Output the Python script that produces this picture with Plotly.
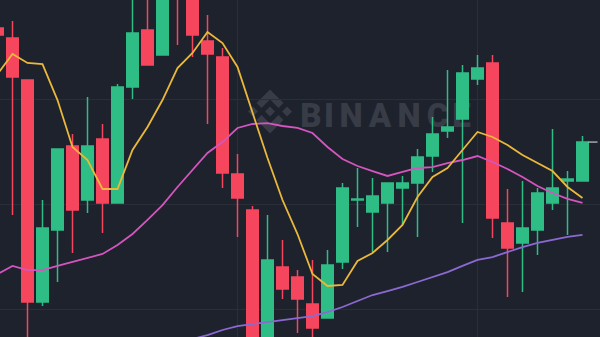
import plotly.graph_objects as go

# ---- data ----
idx = list(range(-1, 39))
opens = [126.76, 125.81, 121.81, 100.67, 107.52, 115.52, 110.38, 116.19, 110.10, 121.14,
         126.57, 124.19, 133.24, 131.33, 125.52, 124.00, 112.86, 109.43, 96.10, 104.00,
         103.05, 100.48, 99.14, 104.48, 110.38, 109.24, 110.10, 111.52, 112.00, 114.57,
         116.95, 118.10, 121.90, 123.43, 108.19, 106.29, 107.52, 110.10, 112.19, 112.19]
highs = [126.95, 127.43, 121.81, 110.38, 115.24, 116.67, 120.19, 117.62, 121.43, 129.90,
         129.90, 130.86, 133.71, 131.81, 128.00, 124.86, 114.76, 109.81, 108.95, 106.57,
         103.71, 104.67, 105.62, 112.00, 113.43, 112.48, 112.00, 112.67, 115.24, 118.29,
         122.76, 123.24, 124.19, 124.19, 111.43, 112.19, 111.52, 117.14, 113.14, 116.48]
lows = [125.90, 108.95, 96.57, 100.29, 102.57, 105.33, 109.14, 107.24, 110.10, 120.00,
        123.24, 124.19, 125.14, 124.00, 117.62, 111.52, 106.86, 95.14, 95.62, 100.95,
        97.71, 96.57, 99.14, 103.81, 107.81, 105.43, 105.43, 108.00, 106.86, 113.05,
        116.29, 108.19, 121.33, 106.76, 101.14, 101.62, 105.14, 109.43, 107.05, 112.19]
closes = [126.10, 122.10, 100.67, 107.71, 115.24, 109.43, 115.52, 110.10, 121.14, 126.29,
          123.24, 130.38, 129.90, 126.10, 124.29, 112.95, 110.57, 96.10, 104.67, 101.90,
          100.95, 98.19, 104.19, 111.52, 110.48, 110.76, 112.00, 112.00, 114.48, 116.67,
          117.33, 122.48, 122.95, 108.67, 105.81, 107.71, 111.05, 111.52, 112.38, 115.90]

ma7 = [122.38, 124.29, 123.43, 123.33, 119.90, 115.43, 114.19, 111.43, 111.43, 115.14,
       117.33, 119.90, 122.95, 124.38, 126.38, 125.33, 123.05, 118.67, 114.38, 110.38,
       107.14, 103.33, 102.19, 102.29, 104.57, 105.33, 106.57, 108.00, 110.67, 112.57,
       113.43, 115.14, 116.86, 116.38, 115.62, 114.67, 113.90, 113.14, 111.62, 110.57]
ma25 = [103.33, 104.10, 103.71, 103.71, 104.10, 104.48, 104.86, 105.24, 106.10, 107.14,
        108.48, 109.90, 111.62, 113.24, 114.86, 115.90, 117.24, 117.62, 117.71, 117.43,
        117.24, 116.76, 115.43, 114.29, 113.62, 113.14, 112.67, 113.05, 113.43, 113.52,
        113.90, 114.19, 114.57, 114.00, 113.33, 112.57, 111.71, 111.05, 110.48, 110.10]
idx99 = list(range(11, 39))
ma99 = [96.67, 97.14, 97.52, 98.00, 98.38, 98.57, 98.81, 98.95, 99.14, 99.33,
        99.71, 100.19, 100.76, 101.33, 101.71, 102.10, 102.57, 103.05, 103.52, 104.10,
        104.67, 104.95, 105.43, 105.90, 106.29, 106.57, 106.86, 107.05]

grid_prices = [100, 110, 120]
grid_idx = [-1, 15, 31]

BG = "#1e222d"
GRID = "#2a2e39"
UP = "#2ebd85"
DOWN = "#f6465d"
WM = "#373c47"

fig = go.Figure()
fig.add_trace(go.Candlestick(
    x=idx, open=opens, high=highs, low=lows, close=closes,
    increasing=dict(line=dict(color=UP, width=1.5), fillcolor=UP),
    decreasing=dict(line=dict(color=DOWN, width=1.5), fillcolor=DOWN),
    showlegend=False, hoverinfo="skip"))
fig.add_trace(go.Scatter(x=idx99, y=ma99, mode="lines",
                         line=dict(color="#8c69d2", width=1.8), showlegend=False, hoverinfo="skip"))
fig.add_trace(go.Scatter(x=idx, y=ma25, mode="lines",
                         line=dict(color="#d455be", width=1.8), showlegend=False, hoverinfo="skip"))
fig.add_trace(go.Scatter(x=idx, y=ma7, mode="lines",
                         line=dict(color="#eab83a", width=1.8), showlegend=False, hoverinfo="skip"))

W, H = 600, 337
shapes = []

# watermark logo (Binance diamond mark), drawn beneath the candles
logo = [
    [(38.73, 53.2), (63.3, 28.64), (87.89, 53.22), (102.19, 38.92), (63.3, 0), (24.42, 38.91)],
    [(0, 63.31), (14.3, 49.01), (28.6, 63.31), (14.3, 77.61)],
    [(49.0, 63.31), (63.3, 49.01), (77.61, 63.31), (63.3, 77.61)],
    [(38.73, 73.41), (63.3, 97.98), (87.89, 73.4), (102.2, 87.69), (63.3, 126.61), (24.41, 87.7)],
    [(98.01, 63.31), (112.31, 49.01), (126.61, 63.31), (112.31, 77.61)],
]
cx, cy, size = 270, 111.5, 44
s = size / 126.61
for poly in logo:
    pts = [((cx - size / 2 + px * s) / W, 1 - (cy - size / 2 + py * s) / H) for px, py in poly]
    path = "M " + " L ".join(f"{a:.5f},{b:.5f}" for a, b in pts) + " Z"
    shapes.append(dict(type="path", xref="paper", yref="paper", path=path,
                       fillcolor=WM, line=dict(width=0), layer="between"))

letters = ["B", "I", "N", "A", "N", "C", "E"]
letter_x = [311, 329, 351, 380, 409, 437.5, 461.5]
for ch, lx in zip(letters, letter_x):
    shapes.append(dict(type="rect", xref="paper", yref="paper",
                       x0=(lx - 12) / W, x1=(lx + 12) / W,
                       y0=1 - (113 + 16) / H, y1=1 - (113 - 16) / H,
                       line=dict(width=0), fillcolor="rgba(0,0,0,0)", layer="between",
                       label=dict(text=ch, textposition="middle center",
                                  font=dict(family="Roboto", size=33, color=WM, weight=900))))

# last price dashed line
shapes.append(dict(type="line", xref="x", yref="y", x0=idx[-1] + 0.4, x1=idx[-1] + 1.2,
                   y0=closes[-1], y1=closes[-1], line=dict(color="#e8e8e8", width=1, dash="dash"),
                   layer="above"))

fig.update_layout(
    width=W, height=H,
    margin=dict(l=0, r=0, t=0, b=0),
    paper_bgcolor=BG, plot_bgcolor=BG,
    boxgap=0.233, boxgroupgap=0,
    shapes=shapes,
    xaxis=dict(range=[-0.8333, 39.1667], tickvals=grid_idx, showticklabels=False,
               showgrid=True, gridcolor=GRID, gridwidth=1, zeroline=False,
               rangeslider=dict(visible=False), fixedrange=True, showline=False),
    yaxis=dict(range=[97.3333, 129.4286], tickvals=grid_prices, showticklabels=False,
               showgrid=True, gridcolor=GRID, gridwidth=1, zeroline=False, fixedrange=True,
               showline=False),
    hovermode=False,
)

fig.write_html("out.html", config={"displayModeBar": False})
